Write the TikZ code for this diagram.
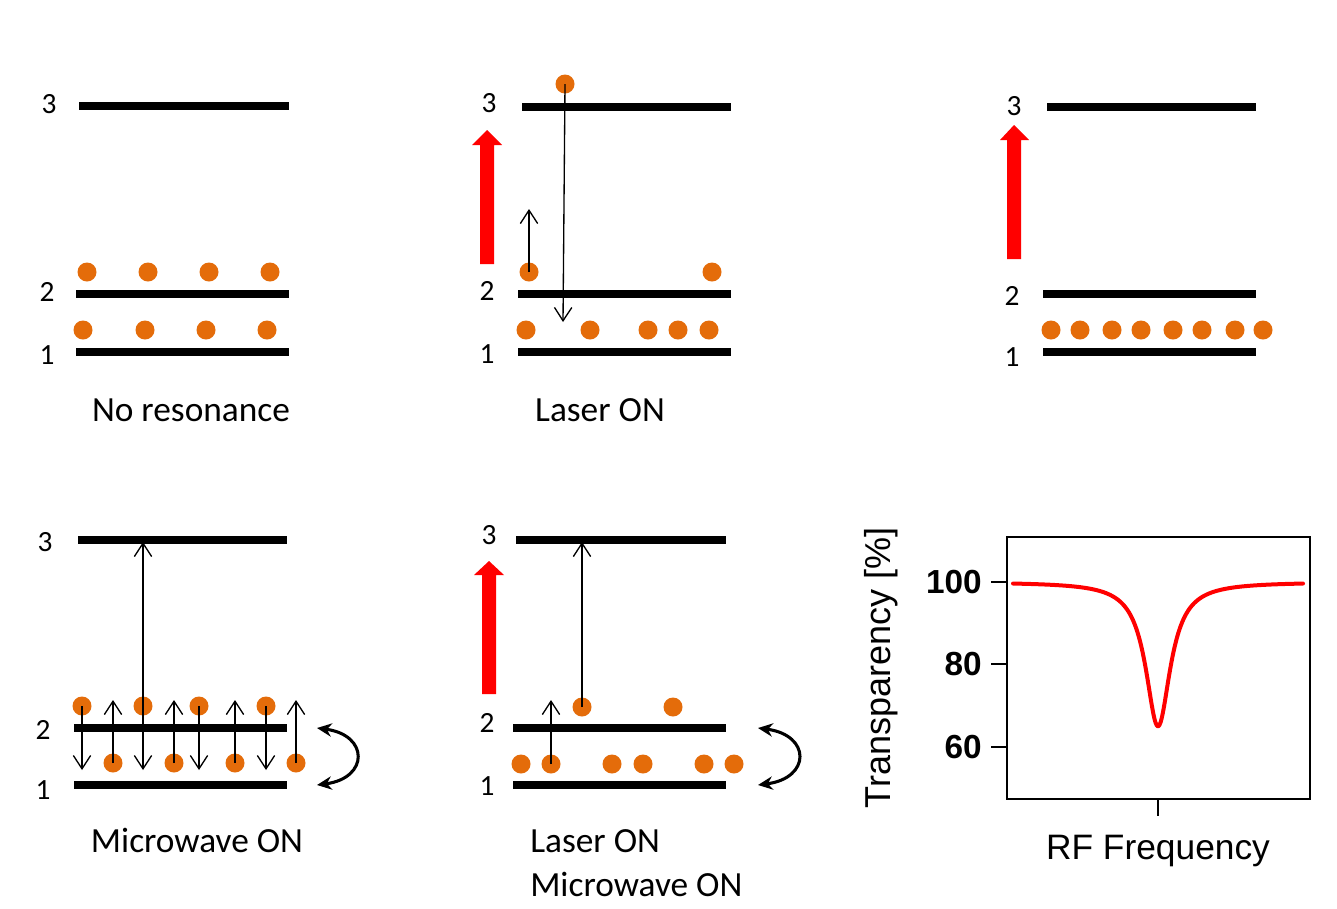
\documentclass[tikz,border=0pt]{standalone}
\usepackage{fontspec}
\setmainfont{Carlito}
\newfontfamily\arialf{Liberation Sans}
\usetikzlibrary{arrows.meta}
\definecolor{dotorange}{RGB}{228,108,10}
\definecolor{laserred}{RGB}{255,0,0}
\begin{document}
\begin{tikzpicture}[x=0.75pt,y=-0.75pt,
  level/.style={line width=6pt},
  dot/.style={circle,fill=dotorange,minimum size=14.25pt,inner sep=0pt},
  thinarrow/.style={line width=1pt,-{Straight Barb[length=10pt,width=13pt,line width=1pt]}},
  lvlnum/.style={font=\fontsize{22}{24}\selectfont,inner sep=0pt},
  captext/.style={font=\fontsize{26.5}{29}\selectfont,inner sep=0pt},
  swap/.style={line width=2.3pt,{Stealth[length=11pt,width=10pt]}-{Stealth[length=11pt,width=10pt]}},
  axislbl/.style={font=\arialf\fontsize{26.5}{29}\selectfont,inner sep=0pt},
  ticklbl/.style={font=\arialf\bfseries\fontsize{25}{27}\selectfont,inner sep=0pt,anchor=east}]
\useasboundingbox (0,0) rectangle (1337,908);
\fill[white] (0,0) rectangle (1337,908);

% ---------- Panel 1: No resonance ----------
\draw[level] (79,106) -- (289,106);
\draw[level] (76,294) -- (289,294);
\draw[level] (76,352) -- (289,352);
\node[lvlnum] (p1l3) at (49,104) {3};
\node[lvlnum] (p1l2) at (47,292) {2};
\node[lvlnum] (p1l1) at (47,355) {1};
\foreach \x [count=\i] in {87,148,209,270} \node[dot] (p1u\i) at (\x,272) {};
\foreach \x [count=\i] in {83,145,206,267} \node[dot] (p1d\i) at (\x,330) {};
\node[captext] (cap1) at (191,410) {No resonance};

% ---------- Panel 2: Laser ON ----------
\draw[level] (522,107) -- (731,107);
\draw[level] (518,294) -- (731,294);
\draw[level] (518,352) -- (731,352);
\node[lvlnum] (p2l3) at (489,103) {3};
\node[lvlnum] (p2l2) at (487,291) {2};
\node[lvlnum] (p2l1) at (487,354) {1};
\fill[laserred] (480,264) -- (480,145) -- (472,145) -- (487,130) -- (502,145) -- (494,145) -- (494,264) -- cycle;
\node[dot] (p2t) at (565,84) {};
\node[dot] (p2u1) at (529,272) {};
\node[dot] (p2u2) at (712,272) {};
\foreach \x [count=\i] in {526,590,648,678,709} \node[dot] (p2d\i) at (\x,330) {};
\coordinate (p2e1) at (563,322);
\coordinate (p2e2) at (529,209);
\draw[thinarrow] (p2t.center) -- (p2e1);
\draw[thinarrow] (p2u1.center) -- (p2e2);
\node[captext] (cap2) at (600,410) {Laser ON};

% ---------- Panel 3 ----------
\draw[level] (1047,107) -- (1256,107);
\draw[level] (1043,294) -- (1256,294);
\draw[level] (1043,352) -- (1256,352);
\node[lvlnum] (p3l3) at (1014,106) {3};
\node[lvlnum] (p3l2) at (1012,296) {2};
\node[lvlnum] (p3l1) at (1012,357) {1};
\fill[laserred] (1007,259) -- (1007,140) -- (1000,140) -- (1014,125) -- (1029,140) -- (1021,140) -- (1021,259) -- cycle;
\foreach \x [count=\i] in {1051,1080,1112,1141,1173,1202,1235,1263} \node[dot] (p3d\i) at (\x,330) {};

% ---------- Panel 4: Microwave ON ----------
\draw[level] (78,540) -- (287,540);
\draw[level] (74,728) -- (287,728);
\draw[level] (74,785) -- (287,785);
\node[lvlnum] (p4l3) at (45,542) {3};
\node[lvlnum] (p4l2) at (43,730) {2};
\node[lvlnum] (p4l1) at (43,790) {1};
\foreach \x [count=\i] in {82,143,199,266} {
  \node[dot] (p4u\i) at (\x,706) {};
  \coordinate (p4ue\i) at (\x,770);
  \draw[thinarrow] (p4u\i.center) -- (p4ue\i);
}
\foreach \x [count=\i] in {113,174,235,296} {
  \node[dot] (p4d\i) at (\x,763) {};
  \coordinate (p4de\i) at (\x,700);
  \draw[thinarrow] (p4d\i.center) -- (p4de\i);
}
\coordinate (p4top) at (143,542);
\draw[thinarrow] (p4u2.center) -- (p4top);
\coordinate (p4s) at (317,728);
\coordinate (p4t) at (317,785);
\draw[swap] (p4s) .. controls (369,735) and (369,778) .. (p4t);
\node[captext] (cap4) at (197,840) {Microwave ON};

% ---------- Panel 5: Laser ON + Microwave ON ----------
\draw[level] (516,540) -- (726,540);
\draw[level] (513,728) -- (726,728);
\draw[level] (513,785) -- (726,785);
\node[lvlnum] (p5l3) at (489,535) {3};
\node[lvlnum] (p5l2) at (487,723) {2};
\node[lvlnum] (p5l1) at (487,786) {1};
\fill[laserred] (482,694) -- (482,575) -- (474,575) -- (489,561) -- (504,575) -- (496,575) -- (496,694) -- cycle;
\node[dot] (p5u1) at (582,707) {};
\node[dot] (p5u2) at (673,707) {};
\foreach \x [count=\i] in {521,551,612,643,704,734} \node[dot] (p5d\i) at (\x,764) {};
\coordinate (p5e1) at (551,700);
\coordinate (p5e2) at (582,542);
\draw[thinarrow] (p5d2.center) -- (p5e1);
\draw[thinarrow] (p5u1.center) -- (p5e2);
\coordinate (p5s) at (758,728);
\coordinate (p5t) at (758,785);
\draw[swap] (p5s) .. controls (811,735) and (811,778) .. (p5t);
\node[captext,anchor=west] (cap5a) at (530,841) {Laser ON};
\node[captext,anchor=west] (cap5b) at (530,884) {Microwave ON};

% ---------- Panel 6: plot ----------
\draw[line width=1.5pt] (1007,537) rectangle (1310,799);
\foreach \y/\t in {582/100,664/80,747/60} {
  \draw[line width=1.5pt] (991,\y) -- (1007,\y);
  \node[ticklbl] at (982,\y) {\t};
}
\draw[line width=1.5pt] (1158,799) -- (1158,816);
\draw[laserred,line width=3pt,line cap=round,line join=round]
  plot[domain=1013:1303,samples=241,smooth] (\x,{582+144.4/(1+((\x-1158)/15)^2)});
\node[axislbl] (xlab) at (1158,851) {RF Frequency};
\node[axislbl,font=\arialf\fontsize{27}{29}\selectfont,rotate=90] (ylab) at (881,668) {Transparency [\%]};
\end{tikzpicture}
\end{document}
